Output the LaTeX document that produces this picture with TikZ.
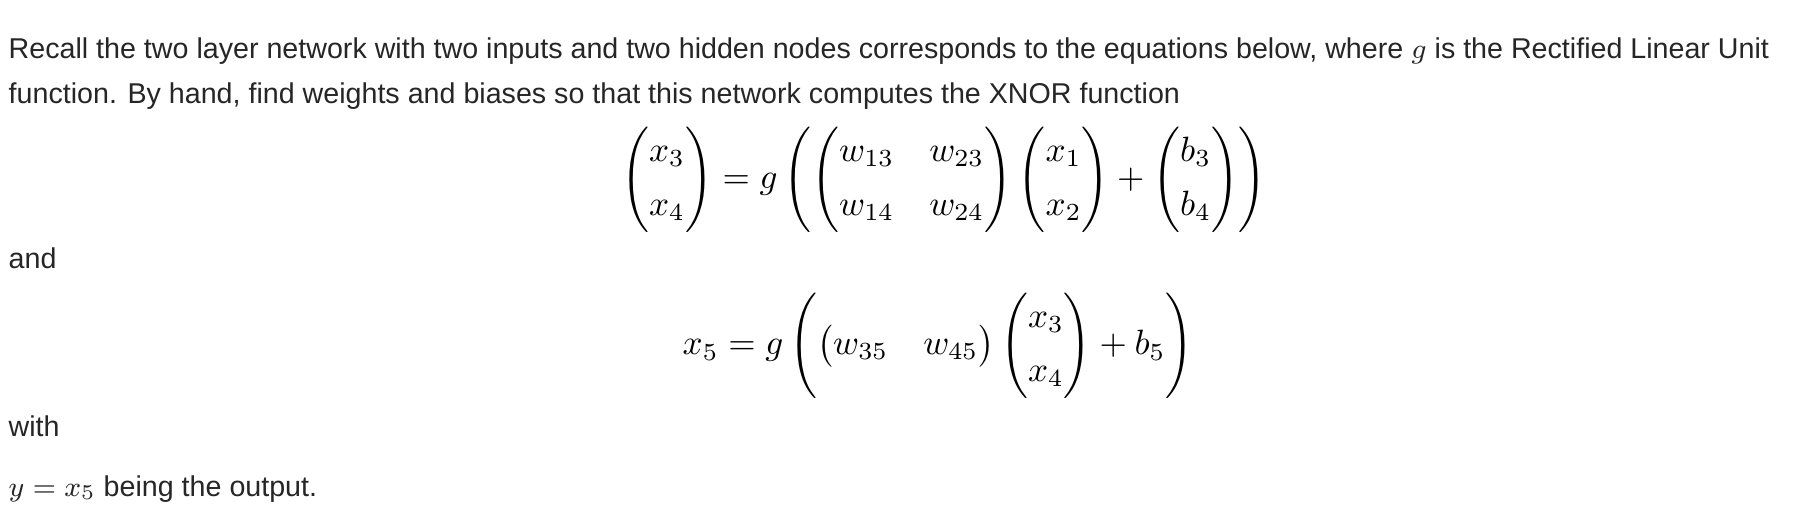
\documentclass[tikz,border=0pt]{standalone}
\usepackage{amsmath}
\usepackage{fontspec}
\setmainfont{Liberation Sans}
\begin{document}
\begin{tikzpicture}[x=0.1mm,y=-0.1mm,
  txt/.style={anchor=base west,inner sep=0pt,font=\fontsize{8.15}{10}\selectfont,text=black!85},
  eq/.style={inner sep=0pt,font=\fontsize{10.1}{12}\selectfont}]
\useasboundingbox[fill=white] (0,0) rectangle (1820,508);
\node[txt] (l1) at (8,59) {Recall the two layer network with two inputs and two hidden nodes corresponds to the equations below, where $g$ is the Rectified Linear Unit};
\node[txt] (l2) at (8,104) {function. By hand, find weights and biases so that this network computes the XNOR function};
\node[eq] (e1) at (944,180) {$\displaystyle \begin{pmatrix} x_3\\[0.6ex] x_4\end{pmatrix} = g\left(\begin{pmatrix} w_{13} & w_{23}\\[0.6ex] w_{14} & w_{24}\end{pmatrix}\begin{pmatrix} x_1\\[0.6ex] x_2\end{pmatrix}+\begin{pmatrix} b_3\\[0.6ex] b_4\end{pmatrix}\right)$};
\node[txt] (and) at (8,269) {and};
\node[eq] (e2) at (938,346) {$\displaystyle x_5 = g\left(\begin{pmatrix} w_{35} & w_{45}\end{pmatrix}\begin{pmatrix} x_3\\[0.6ex] x_4\end{pmatrix}+b_5\right)$};
\node[txt] (with) at (8,437) {with};
\node[txt] (last) at (8,496) {$y=x_5$ being the output.};
\end{tikzpicture}
\end{document}
